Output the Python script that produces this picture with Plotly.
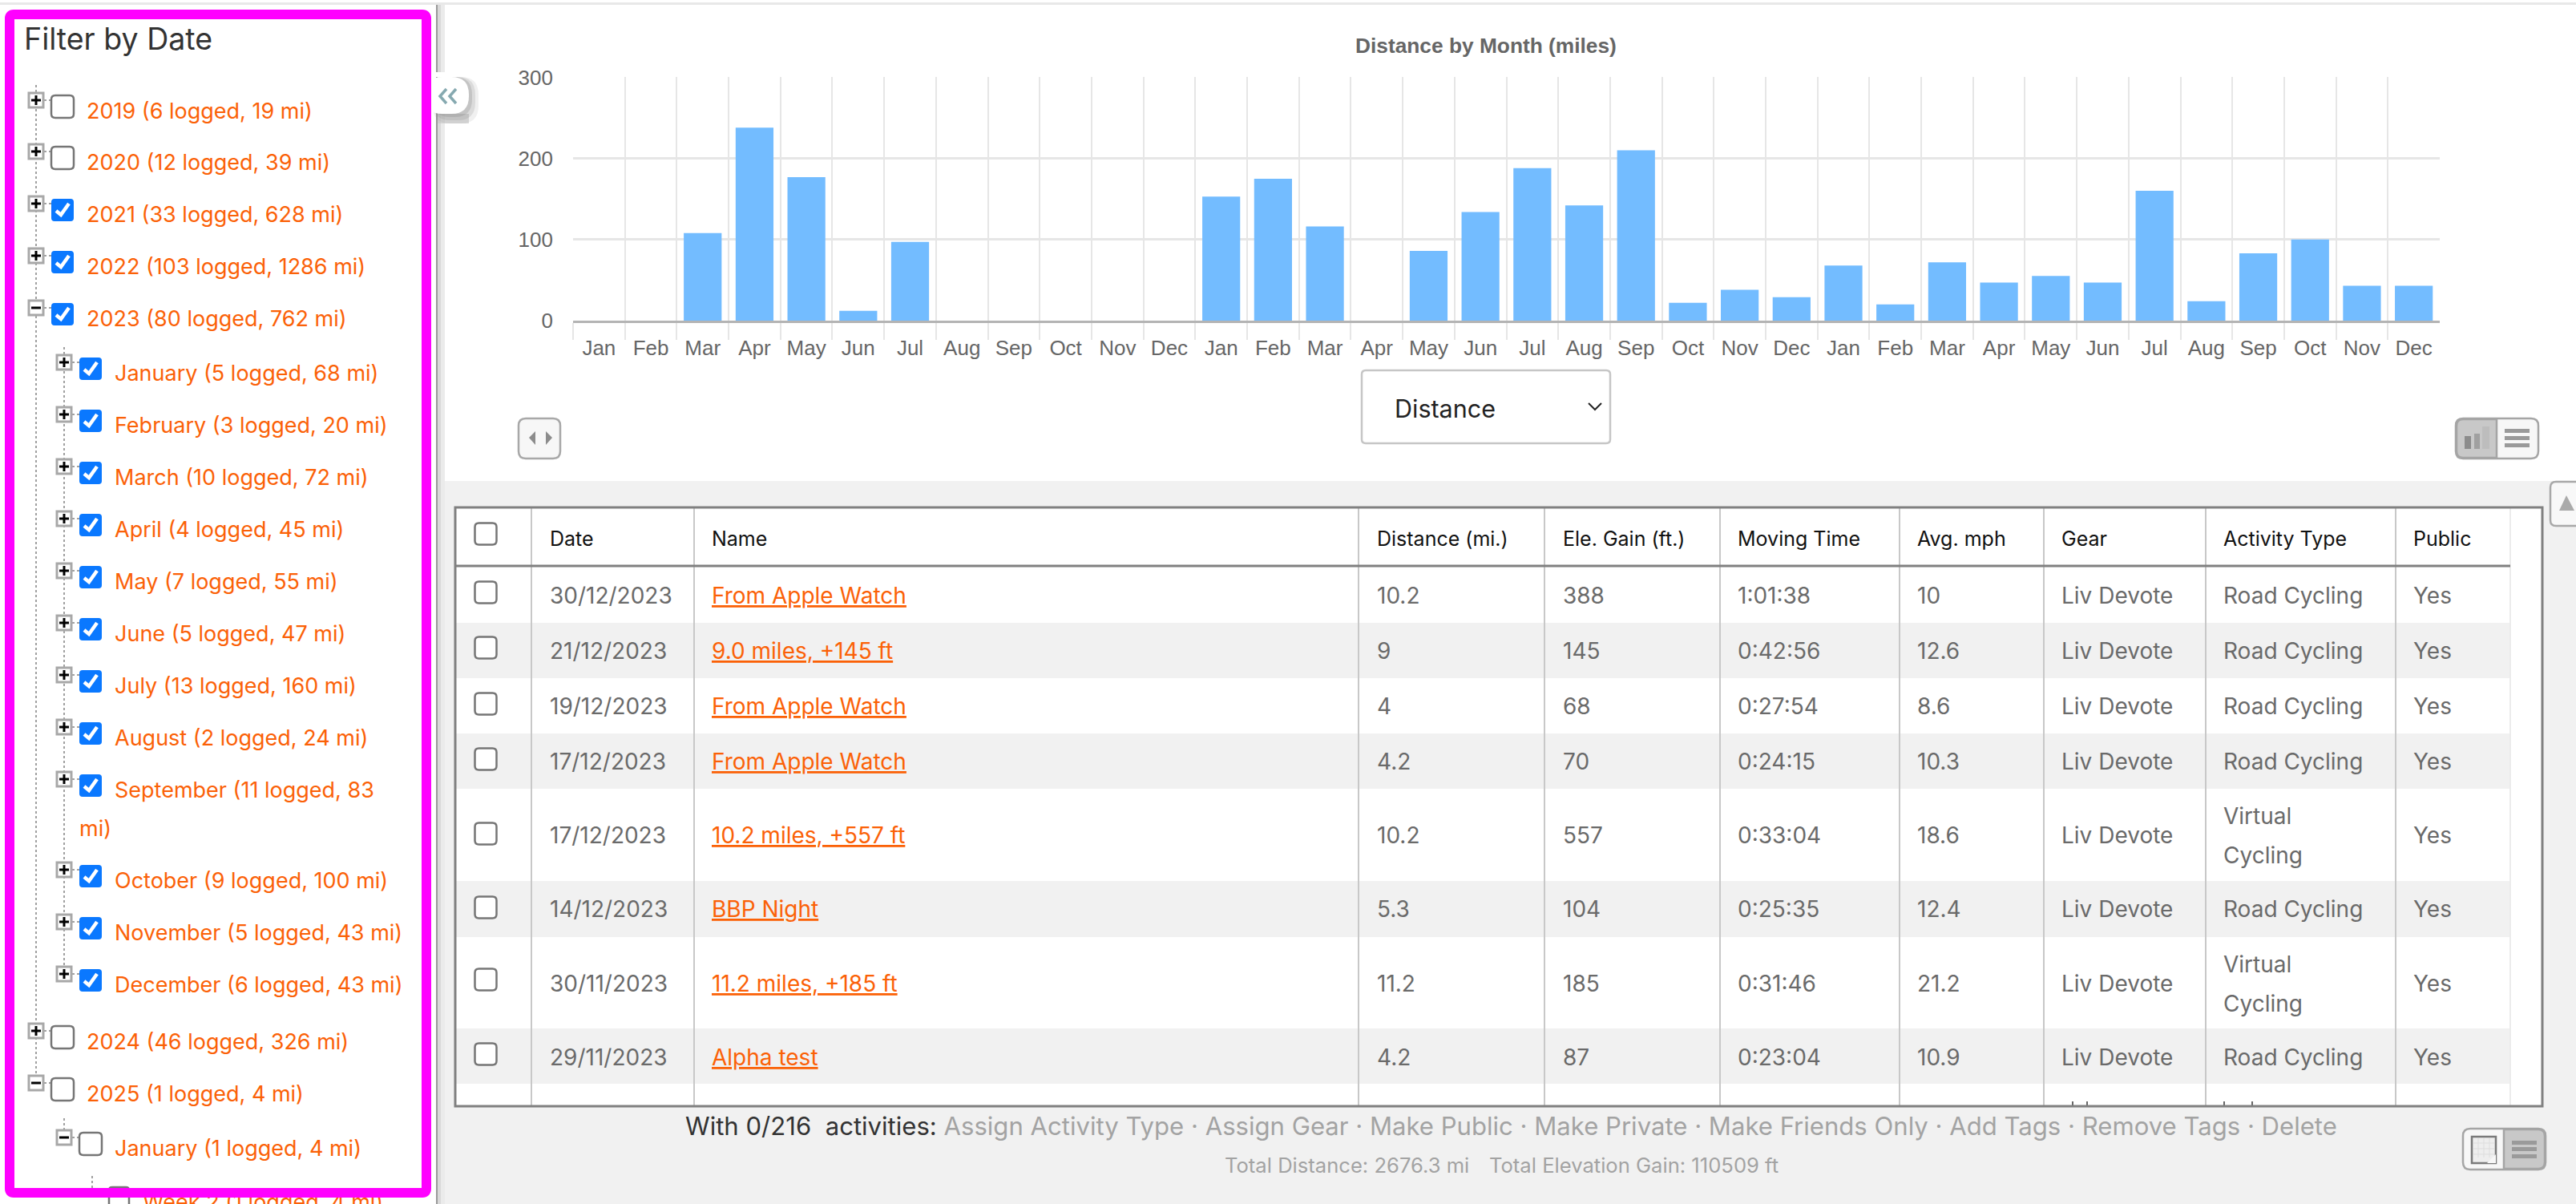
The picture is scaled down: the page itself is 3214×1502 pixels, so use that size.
import plotly.graph_objects as go

# %% chart data
months = ["Jan", "Feb", "Mar", "Apr", "May", "Jun", "Jul", "Aug", "Sep", "Oct", "Nov", "Dec"] * 3
miles_by_month = [
    0, 0, 108, 238, 177, 12, 97, 0, 0, 0, 0, 0,
    153, 175, 116, 0, 86, 134, 188, 142, 210, 22, 38, 29,
    68, 20, 72, 47, 55, 47, 160, 24, 83, 100, 43, 43,
]
y_ticks = [0, 100, 200, 300]
y_grid = [100, 200]

# %% date tree
tree_labels = [
    "2019 (6 logged, 19 mi)", "2020 (12 logged, 39 mi)", "2021 (33 logged, 628 mi)",
    "2022 (103 logged, 1286 mi)", "2023 (80 logged, 762 mi)",
    "January (5 logged, 68 mi)", "February (3 logged, 20 mi)", "March (10 logged, 72 mi)",
    "April (4 logged, 45 mi)", "May (7 logged, 55 mi)", "June (5 logged, 47 mi)",
    "July (13 logged, 160 mi)", "August (2 logged, 24 mi)", "September (11 logged, 83",
    "October (9 logged, 100 mi)", "November (5 logged, 43 mi)", "December (6 logged, 43 mi)",
    "2024 (46 logged, 326 mi)", "2025 (1 logged, 4 mi)", "January (1 logged, 4 mi)",
]
tree_depth = [0, 0, 0, 0, 0, 1, 1, 1, 1, 1, 1, 1, 1, 1, 1, 1, 1, 0, 0, 1]
tree_checked = [0, 0, 1, 1, 1, 1, 1, 1, 1, 1, 1, 1, 1, 1, 1, 1, 1, 0, 0, 0]
tree_open = [0, 0, 0, 0, 1, 0, 0, 0, 0, 0, 0, 0, 0, 0, 0, 0, 0, 0, 1, 1]
tree_y = [138, 202, 267, 332, 397, 465, 530, 595, 660, 725, 790, 855, 920, 985, 1098, 1163, 1228, 1299, 1364, 1432]

# %% activity table
headers = ["Date", "Name", "Distance (mi.)", "Ele. Gain (ft.)", "Moving Time", "Avg. mph", "Gear", "Activity Type", "Public"]
dates = ["30/12/2023", "21/12/2023", "19/12/2023", "17/12/2023", "17/12/2023", "14/12/2023", "30/11/2023", "29/11/2023"]
names = ["From Apple Watch", "9.0 miles, +145 ft", "From Apple Watch", "From Apple Watch", "10.2 miles, +557 ft", "BBP Night", "11.2 miles, +185 ft", "Alpha test"]
distances = ["10.2", "9", "4", "4.2", "10.2", "5.3", "11.2", "4.2"]
gains = ["388", "145", "68", "70", "557", "104", "185", "87"]
moving_times = ["1:01:38", "0:42:56", "0:27:54", "0:24:15", "0:33:04", "0:25:35", "0:31:46", "0:23:04"]
avg_mph = ["10", "12.6", "8.6", "10.3", "18.6", "12.4", "21.2", "10.9"]
gear = ["Liv Devote"] * 8
activity_types = ["Road Cycling", "Road Cycling", "Road Cycling", "Road Cycling", "Virtual|Cycling", "Road Cycling", "Virtual|Cycling", "Road Cycling"]
public = ["Yes"] * 8
bulk_actions = ["Assign Activity Type", "Assign Gear", "Make Public", "Make Private", "Make Friends Only", "Add Tags", "Remove Tags", "Delete"]

ORANGE = "#fb6107"
FONT = "Inter"
CHART_FONT = "Liberation Sans"

shapes = []
annotations = []


def rounded(x0, y0, x1, y1, r):
    return (
        f"M{x0 + r},{y0} L{x1 - r},{y0} Q{x1},{y0} {x1},{y0 + r} L{x1},{y1 - r} Q{x1},{y1} {x1 - r},{y1} "
        f"L{x0 + r},{y1} Q{x0},{y1} {x0},{y1 - r} L{x0},{y0 + r} Q{x0},{y0} {x0 + r},{y0} Z"
    )


def add_shape(**kw):
    shapes.append(dict(xref="x2", yref="y2", layer="above", **kw))


def rect(x0, y0, x1, y1, fill, line=None, width=0, opacity=1):
    add_shape(type="rect", x0=x0, y0=y0, x1=x1, y1=y1, fillcolor=fill, opacity=opacity,
              line=dict(color=line or fill, width=width))


def box(x0, y0, x1, y1, r, fill, line=None, width=0, opacity=1):
    add_shape(type="path", path=rounded(x0, y0, x1, y1, r), fillcolor=fill, opacity=opacity,
              line=dict(color=line or fill, width=width))


def seg(x0, y0, x1, y1, color, width=2, dash="solid"):
    add_shape(type="line", x0=x0, y0=y0, x1=x1, y1=y1, line=dict(color=color, width=width, dash=dash))


def poly(path, fill, line=None, width=0):
    add_shape(type="path", path=path, fillcolor=fill, line=dict(color=line or fill, width=width))


def label(x, y, text, size, color, family=FONT):
    # annotations sit about 2px right of the given x
    annotations.append(dict(xref="x2", yref="y2", x=x - 2, y=y, text=text, showarrow=False, xanchor="left",
                            yanchor="middle", font=dict(family=family, size=size, color=color),
                            align="left", borderpad=0))


def checkbox(cx, cy, checked, size=28):
    h = size / 2
    if checked:
        box(cx - h, cy - h, cx + h, cy + h, 4, "#0a78ff")
        add_shape(type="path", path=f"M{cx - 8},{cy + 1} L{cx - 2},{cy + 6} L{cx + 8},{cy - 8}",
                  line=dict(color="white", width=4.5))
    else:
        box(cx - h, cy - h, cx + h, cy + h, 5, "white", "#767676", 2.5)


def expander(cx, cy, is_open):
    rect(cx - 9, cy - 9, cx + 9, cy + 9, "white", "#a8a8a8", 3)
    seg(cx - 6, cy, cx + 6, cy, "black", 3)
    if not is_open:
        seg(cx, cy - 6, cx, cy + 6, "black", 3)


# %% page background, stripe next to the sidebar
rect(0, 3, 3214, 6, "#e8e8e8")
rect(555, 600, 3214, 1502, "#f1f1f1")
rect(544, 6, 546, 1502, "#9a9a9a")
rect(546, 6, 550, 1502, "#d9d9d9")
rect(550, 6, 555, 1502, "#ebebeb")

# collapse tab with a soft shadow
rect(546, 142, 585, 154, "#c4c4c4", opacity=0.6)
for grow, alpha in [(12, 0.12), (8, 0.18), (4, 0.25)]:
    box(540, 96, 585 + grow, 142 + grow, 22, "#808080", opacity=alpha)
rect(544, 90, 560, 96, "white")
box(530, 96, 585, 142, 22, "white")
for dx in (0, 12):
    add_shape(type="path", path=f"M{557 + dx},{111} L{549 + dx},{120} L{557 + dx},{129}",
              line=dict(color="#86a9b0", width=3.5))

# %% sidebar tree
label(31, 48, "Filter by Date", 37.5, "#333333")
seg(45, 106, 45, 1340, "#a0a0a0", 2, "dot")
seg(80, 433, 80, 1205, "#a0a0a0", 2, "dot")
seg(80, 1395, 80, 1410, "#a0a0a0", 2, "dot")
seg(115, 1467, 115, 1484, "#a0a0a0", 2, "dot")
for text, depth, checked, is_open, y in zip(tree_labels, tree_depth, tree_checked, tree_open, tree_y):
    box_x = 45 + depth * 35
    seg(box_x + 10, y - 13, box_x + 19, y - 13, "#a0a0a0", 2, "dot")
    expander(box_x, y - 13, is_open)
    checkbox(78 + depth * 35, y - 5, checked)
    label(109 + depth * 35, y, text, 27, ORANGE)
label(100, 1033, "mi)", 27, ORANGE)

# %% table body
rect(568, 633, 3172, 1380, "white")
for i, y0 in enumerate([777, 915, 1099, 1283]):
    rect(569, y0, 3132, y0 + 69 if i != 2 else y0 + 70, "#f1f1f1")
sep_x = [663, 866, 1695, 1927, 2146, 2370, 2550, 2752, 2989]
for x in sep_x:
    seg(x, 634, x, 1379, "#c8c8c8", 2)
seg(3132, 634, 3132, 1379, "#ececec", 2)
seg(569, 706, 3132, 706, "#808080", 3)
for x0 in (2586, 2604, 2775, 2810):
    seg(x0, 1374, x0, 1379, "#666666", 2)
add_shape(type="rect", x0=568, y0=633, x1=3172, y1=1380, line=dict(color="#808080", width=3))

text_x = [687, 889, 1719, 1951, 2169, 2393, 2573, 2775, 3012]
row_y = [743, 812, 881, 950, 1042, 1134, 1227, 1319]
check_y = [739, 808, 878, 947, 1040, 1132, 1222, 1315]
columns = [dates, names, distances, gains, moving_times, avg_mph, gear, activity_types, public]

checkbox(606, 666, 0, 27)
for y in check_y:
    checkbox(606, y, 0, 27)
for x, head in zip(text_x, headers):
    label(x, 672, head, 25, "#111111")
for col, (x, values) in enumerate(zip(text_x, columns)):
    for y, value in zip(row_y, values):
        if col == 1:
            label(x, y, f"<u>{value}</u>", 28, ORANGE)
        elif "|" in value:
            first, second = value.split("|")
            label(x, y - 24, first, 28, "#6a6a6a")
            label(x, y + 25, second, 28, "#6a6a6a")
        else:
            label(x, y, value, 28, "#6a6a6a")

# %% controls above the table
box(1699, 462, 2009, 553, 5, "white", "#c6c6c6", 2.5)
label(1741, 509, "Distance", 30.5, "#222222")
add_shape(type="path", path="M1982,503 L1990,511 L1998,503", line=dict(color="#222222", width=2))

box(647, 522, 699, 572, 9, "#f7f7f7", "#a8a8a8", 2.5)
poly("M668,538 L660,546 L668,555 Z", "#8c8c8c")
poly("M681,538 L689,546 L681,555 Z", "#8c8c8c")

box(3064, 522, 3167, 572, 9, "#f7f7f7", "#a5a5a5", 2.5)
add_shape(type="path", path="M3115,523 L3073,523 Q3065,523 3065,531 L3065,563 Q3065,571 3073,571 L3115,571 Z",
          fillcolor="#c8c8c8", line=dict(color="#a5a5a5", width=2.5))
rect(3075, 544, 3083, 560, "#8c8c8c")
rect(3087, 541, 3094, 560, "#a0a0a0")
rect(3097, 532, 3106, 560, "#bdbdbd")
for y0 in (535, 544, 553):
    rect(3125, y0, 3156, y0 + 5, "#9a9a9a")

box(3182, 601, 3240, 656, 7, "#f8f8f8", "#a8a8a8", 2.5)
poly("M3202,618 L3193,637 L3212,637 Z", "#aaaaaa")

# %% footer
box(3073, 1408, 3176, 1459, 9, "#f7f7f7", "#a5a5a5", 2.5)
add_shape(type="path", path="M3124,1409 L3167,1409 Q3175,1409 3175,1417 L3175,1450 Q3175,1458 3167,1458 L3124,1458 Z",
          fillcolor="#c8c8c8", line=dict(color="#a5a5a5", width=2.5))
rect(3084, 1418, 3114, 1451, "#eeeeee", "#7a7a7a", 2.5)
poly("M3114,1440 L3103,1451 L3114,1451 Z", "#f7f7f7")
for gx in (3092, 3099, 3106):
    seg(gx, 1420, gx, 1444, "#dddddd", 1)
for gy in (1426, 1433, 1440):
    seg(3086, gy, 3112, gy, "#dddddd", 1)
for y0 in (1423, 1431, 1440):
    rect(3134, y0, 3165, y0 + 5, "#9a9a9a")

grey_actions = " · ".join(bulk_actions)
label(856, 1405, f'With 0/216  activities: <span style="color:#a3a3a3">{grey_actions}</span>', 31.1, "#333333")
label(1529, 1453, "Total Distance: 2676.3 mi", 25.6, "#a3a3a3")
label(1859, 1453, "Total Elevation Gain: 110509 ft", 25.6, "#a3a3a3")

# %% week row is cut off by the sidebar frame, so it goes in as a trace under the frame
box(136, 1481, 161, 1515, 4, "white", "#767676", 2.5)
add_shape(type="path", path=rounded(12, 18, 532, 1488, 5), line=dict(color="#ff00ff", width=12))

fig = go.Figure()
fig.add_trace(
    go.Bar(
        x=list(range(len(months))), y=miles_by_month, width=0.73, marker=dict(color="#73bcff", line=dict(width=0)),
        hoverinfo="skip", showlegend=False,
    )
)
fig.add_trace(
    go.Scatter(
        x=[178], y=[1502], xaxis="x2", yaxis="y2", mode="text", text=["Week 2 (1 logged, 4 mi)"],
        textposition="middle right", textfont=dict(family=FONT, size=27, color=ORANGE),
        hoverinfo="skip", showlegend=False, cliponaxis=False,
    )
)

fig.update_layout(
    width=3214,
    height=1502,
    autosize=False,
    margin=dict(l=0, r=0, t=0, b=0, pad=0, autoexpand=False),
    paper_bgcolor="white",
    plot_bgcolor="rgba(0,0,0,0)",
    showlegend=False,
    shapes=shapes,
    annotations=annotations
    + [
        dict(
            xref="x2", yref="y2", x=1854, y=57, text="<b>Distance by Month (miles)</b>", showarrow=False,
            font=dict(family=CHART_FONT, size=26.3, color="#666666"),
        )
    ],
    xaxis=dict(
        domain=[715 / 3214, 3044 / 3214],
        range=[-0.5, len(months) - 0.5],
        tickmode="array",
        tickvals=list(range(len(months))),
        ticktext=months,
        ticks="",
        showgrid=False,
        zeroline=False,
        showline=True,
        linecolor="#b4b4b4",
        linewidth=3,
        ticklabelstandoff=9,
        tickangle=0,
        tickfont=dict(family=CHART_FONT, size=26, color="#666666"),
        minor=dict(
            tickmode="array",
            tickvals=[i - 0.5 for i in range(len(months))],
            ticks="outside",
            ticklen=21,
            tickwidth=2,
            tickcolor="#e6e6e6",
            showgrid=True,
            gridcolor="#e6e6e6",
            gridwidth=2,
        ),
    ),
    yaxis=dict(
        domain=[1 - 400 / 1502, 1 - 96.4 / 1502],
        range=[0, 300],
        tickmode="array",
        tickvals=y_ticks,
        ticks="",
        showgrid=False,
        zeroline=False,
        ticklabelstandoff=24,
        tickfont=dict(family=CHART_FONT, size=26, color="#666666"),
        minor=dict(tickmode="array", tickvals=y_grid, showgrid=True, gridcolor="#e6e6e6", gridwidth=3),
    ),
    xaxis2=dict(domain=[0, 1], range=[0, 3214], visible=False, anchor="y2", fixedrange=True),
    yaxis2=dict(domain=[0, 1], range=[1502, 0], visible=False, anchor="x2", fixedrange=True),
)

fig.write_html(
    "out.html",
    config=dict(displayModeBar=False),
    post_script="document.body.style.margin='0';document.body.style.overflow='hidden';",
)
